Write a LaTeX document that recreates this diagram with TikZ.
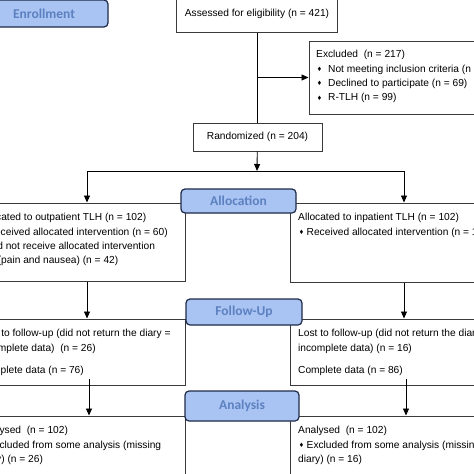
\documentclass[tikz,border=0pt]{standalone}
\usepackage{fontspec}
\setmainfont{Liberation Sans}
\newfontfamily\labfont{Carlito}
\usetikzlibrary{arrows.meta}
\definecolor{labfill}{HTML}{A9C4F3}
\definecolor{labtext}{HTML}{5C80C0}
\definecolor{labline}{HTML}{1E2B47}
\definecolor{boxline}{HTML}{3A3A3A}
\newcommand{\bul}{{\fontsize{7.5pt}{7.5pt}\selectfont\raisebox{0.4pt}{♦}}}
\newcommand{\itm}[1][8.5pt]{\makebox[#1][l]{\hspace*{1.5pt}\bul}}
\tikzset{
	stage/.style={draw=labline,line width=1.2pt,fill=labfill,rounded corners=4pt,text=labtext,font=\labfont\bfseries\fontsize{13.5pt}{14pt}\selectfont,inner sep=0pt},
	box/.style={draw=boxline,line width=1pt,inner sep=0pt,font=\fontsize{10.2pt}{12pt}\selectfont},
	txt/.style={align=left,anchor=north west,inner sep=0pt,font=\fontsize{10.2pt}{14.3pt}\selectfont},
	flow/.style={-{Triangle[length=7pt,width=6pt]},line width=0.9pt}
}
\begin{document}
\begin{tikzpicture}[x=1pt,y=-1pt]
	\useasboundingbox (0,0) rectangle (474,474);
	\clip (0,0) rectangle (474,474);
	\fill[white] (0,0) rectangle (474,474);

	\node [box,minimum width=161pt,minimum height=36pt] (assess) at (257,14) {Assessed for eligibility (n = 421)};
	\node [box,minimum width=211pt,minimum height=73pt] (excl) at (414.5,77.5) {};
	\node [box,minimum width=129pt,minimum height=28pt] (rand) at (257.5,137) {Randomized (n = 204)};
	\node [box,minimum width=214pt,minimum height=78pt] (alL) at (78,242) {};
	\node [box,minimum width=230pt,minimum height=79pt] (alR) at (405,242.5) {};
	\node [box,minimum width=214pt,minimum height=66pt] (fuL) at (78,352) {};
	\node [box,minimum width=230pt,minimum height=66pt] (fuR) at (405,352) {};
	\node [box,minimum width=214pt,minimum height=84pt] (anL) at (78,458) {};
	\node [box,minimum width=230pt,minimum height=84pt] (anR) at (405,458) {};

	\node [txt] (exclT) at (316,50.2) {Excluded\ \ (n = 217)\\ \itm[12pt]Not meeting inclusion criteria (n = 49)\\ \itm[12pt]Declined to participate (n = 69)\\ \itm[12pt]R-TLH (n = 99)};
	\node [txt] (alLT) at (-21,213.2) {Allocated to outpatient TLH (n = 102)\\ \itm Received allocated intervention (n = 60)\\ \itm Did not receive allocated intervention\\ \hspace*{18.6pt}(pain and nausea) (n = 42)};
	\node [txt] (alRT) at (298,213.2) {Allocated to inpatient TLH (n = 102)\\ \itm Received allocated intervention (n = 102)};
	\node [txt] (fuLT) at (-21,329.2) {Lost to follow-up (did not return the diary =\\ incomplete data)\ \ (n = 26)\\[8pt] Complete data (n = 76)};
	\node [txt] (fuRT) at (298,329.2) {Lost to follow-up (did not return the diary =\\ incomplete data) (n = 16)\\[8pt] Complete data (n = 86)};
	\node [txt] (anLT) at (-21,426.2) {Analysed\ \ (n = 102)\\ \itm Excluded from some analysis (missing\\ diary) (n = 26)};
	\node [txt] (anRT) at (298,426.2) {Analysed\ \ (n = 102)\\ \itm Excluded from some analysis (missing\\ diary) (n = 16)};

	\coordinate (split) at (257,171);
	\coordinate (brL) at (87,171);
	\coordinate (brR) at (404,171);
	\coordinate (dnL) at (89,379);
	\coordinate (dnR) at (406,379);

	\draw [line width=0.9pt] (assess.south) -- (assess.south |- rand.north);
	\draw [flow] (assess.south |- excl.west) -- (excl.west);
	\draw [flow] (rand) -- (split);
	\draw [line width=0.9pt] (brL) -- (brR);
	\draw [flow] (brL) -- (brL |- alL.north);
	\draw [flow] (brR) -- (brR |- alR.north);
	\draw [flow] (brL |- alL.south) -- (brL |- fuL.north);
	\draw [flow] (brR |- alR.south) -- (brR |- fuR.north);
	\draw [flow] (dnL) -- (dnL |- anL.north);
	\draw [flow] (dnR) -- (dnR |- anR.north);

	\node [stage,minimum width=128pt,minimum height=27pt] (enrol) at (44,13.5) {Enrollment};
	\node [stage,minimum width=115pt,minimum height=24pt] (alloc) at (238.5,201) {Allocation};
	\node [stage,minimum width=116pt,minimum height=26pt] (follow) at (244,312) {Follow-Up};
	\node [stage,minimum width=114pt,minimum height=30pt] (analys) at (242,406) {Analysis};
\end{tikzpicture}
\end{document}
